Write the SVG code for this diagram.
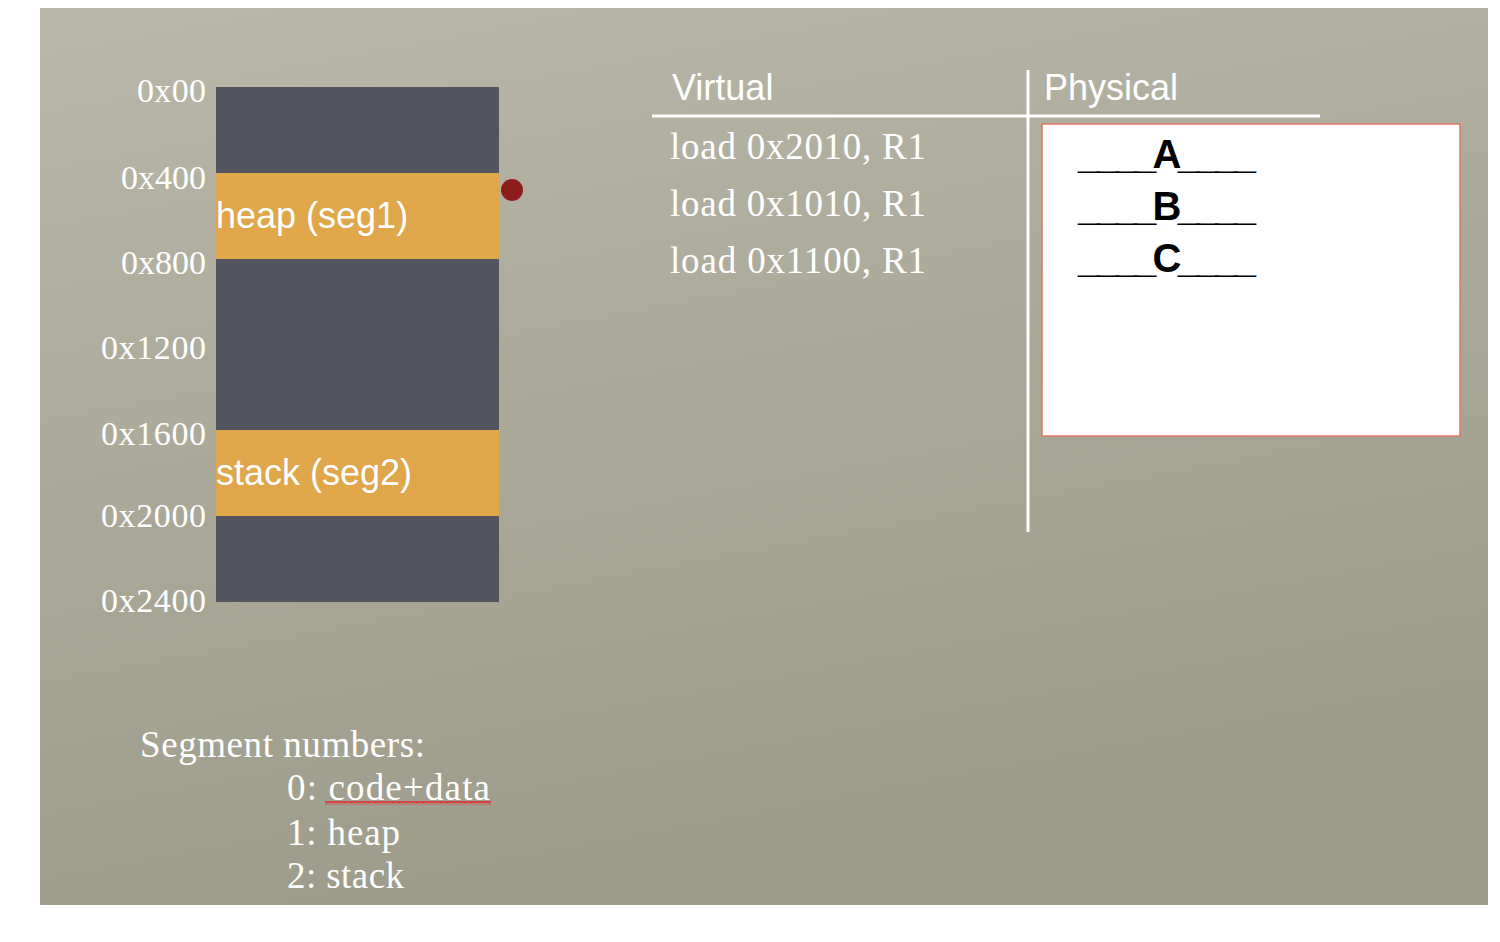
<svg xmlns="http://www.w3.org/2000/svg" width="1500" height="942" viewBox="0 0 1500 942">
<defs>
<linearGradient id="bg" x1="0" y1="0" x2="0.3" y2="1">
<stop offset="0" stop-color="#b9b8a9"/>
<stop offset="1" stop-color="#9d9b89"/>
</linearGradient>
<pattern id="wave" width="6" height="4" patternUnits="userSpaceOnUse">
<path d="M0 3 L1.5 1 L3 3 L4.5 1 L6 3" fill="none" stroke="#e03030" stroke-width="1.3"/>
</pattern>
</defs>
<style>
.addr{font-family:"Liberation Serif",serif;font-size:34px;fill:#fff;text-anchor:end}
.seg{font-family:"Liberation Sans",sans-serif;font-size:36px;fill:#fff}
.hdr{font-family:"Liberation Sans",sans-serif;font-size:36px;fill:#fff}
.ser{font-family:"Liberation Serif",serif;font-size:37px;fill:#fff}
.abc{font-family:"Liberation Sans",sans-serif;font-size:40px;font-weight:bold;fill:#000;text-anchor:middle}
</style>
<rect width="1500" height="942" fill="#fff"/>
<rect x="40" y="8" width="1448" height="897" fill="url(#bg)"/>
<g id="memory">
<rect x="216" y="87" width="283" height="515" fill="#52555e"/>
<rect x="216" y="173" width="283" height="86" fill="#dfa64a"/>
<rect x="216" y="430" width="283" height="86" fill="#dfa64a"/>
<text class="seg" x="216" y="228">heap (seg1)</text>
<text class="seg" x="216" y="485">stack (seg2)</text>
</g>
<g id="addresses">
<text class="addr" x="206" y="102" textLength="69">0x00</text>
<text class="addr" x="206" y="189">0x400</text>
<text class="addr" x="206" y="274">0x800</text>
<text class="addr" x="206" y="359" textLength="105">0x1200</text>
<text class="addr" x="206" y="445" textLength="105">0x1600</text>
<text class="addr" x="206" y="527" textLength="105">0x2000</text>
<text class="addr" x="206" y="612" textLength="105">0x2400</text>
</g>
<circle id="dot" cx="512" cy="190" r="11" fill="#8e1c1a"/>
<g id="table">
<line x1="652" y1="116" x2="1320" y2="116" stroke="#fff" stroke-width="3"/>
<line x1="1028" y1="70" x2="1028" y2="532" stroke="#fff" stroke-width="3"/>
<text class="hdr" x="672" y="100">Virtual</text>
<text class="hdr" x="1044" y="100">Physical</text>
<text class="ser" x="670" y="159" textLength="256">load 0x2010, R1</text>
<text class="ser" x="670" y="216" textLength="256">load 0x1010, R1</text>
<text class="ser" x="670" y="273" textLength="256">load 0x1100, R1</text>
</g>
<g id="physbox">
<rect x="1042" y="124" width="418" height="312" fill="#fff" stroke="#e07563" stroke-width="1.5"/>
<text class="abc" x="1167" y="168" textLength="178" lengthAdjust="spacing">____A____</text>
<text class="abc" x="1167" y="220" textLength="178" lengthAdjust="spacing">____B____</text>
<text class="abc" x="1167" y="272" textLength="178" lengthAdjust="spacing">____C____</text>
</g>
<g id="legend">
<text class="ser" x="140" y="757" textLength="285">Segment numbers:</text>
<text class="ser" x="287" y="800" textLength="203">0: code+data</text>
<rect x="325" y="801" width="166" height="4" fill="url(#wave)"/>
<text class="ser" x="287" y="845" textLength="113">1: heap</text>
<text class="ser" x="287" y="888" textLength="117">2: stack</text>
</g>
</svg>
